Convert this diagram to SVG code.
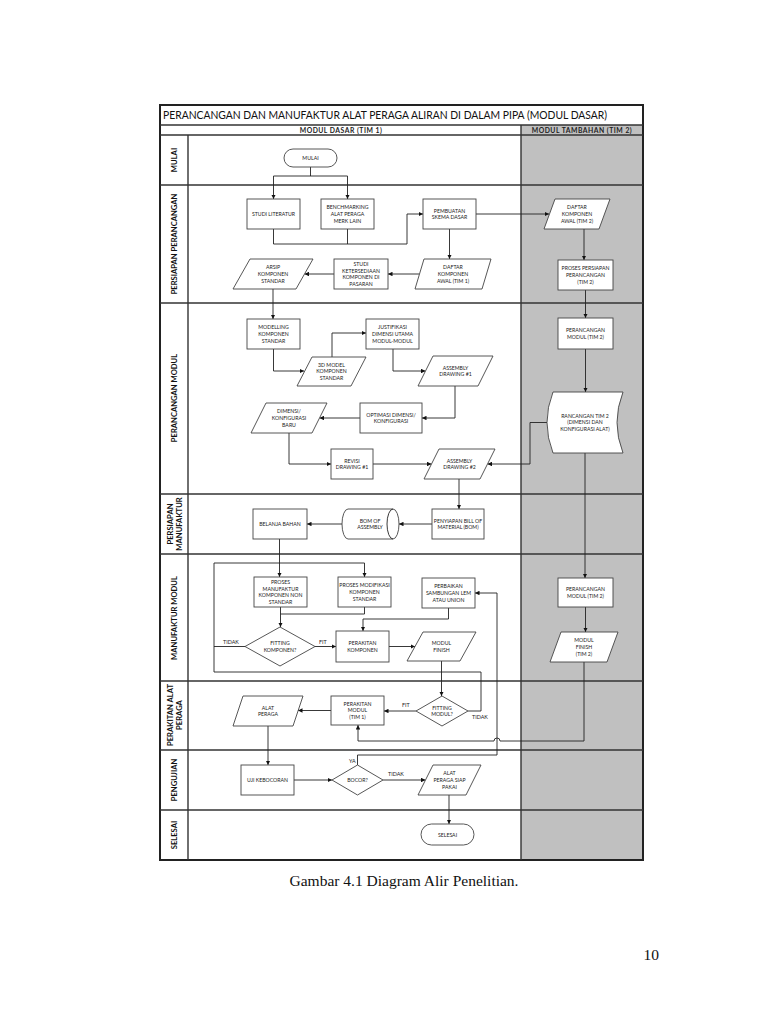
<svg xmlns="http://www.w3.org/2000/svg" width="768" height="1024" viewBox="0 0 768 1024">
<defs>
<marker id="ah" viewBox="0 0 6 6" refX="6" refY="3" markerWidth="4.5" markerHeight="4.5" markerUnits="userSpaceOnUse" orient="auto"><path d="M0,0 L6,3 L0,6 z" fill="#111"/></marker>
<style>
.box{fill:#fff;stroke:#444;stroke-width:0.9}
.ln{fill:none;stroke:#222;stroke-width:0.9}
.la{fill:none;stroke:#222;stroke-width:0.9;marker-end:url(#ah)}
.sep{stroke:#333;stroke-width:1.4;fill:none}
.t{font-family:Lato,"Liberation Sans",sans-serif;font-size:5.2px;fill:#222;text-anchor:middle}
.lb{font-family:Lato,"Liberation Sans",sans-serif;font-size:5.4px;fill:#222}
.lane{font-family:Lato,"Liberation Sans",sans-serif;font-weight:bold;font-size:7.6px;fill:#111;text-anchor:middle}
.hd{font-family:Lato,"Liberation Sans",sans-serif;font-weight:bold;font-size:6.8px;fill:#222;text-anchor:middle;letter-spacing:0.5px}
</style>
</defs>
<rect width="768" height="1024" fill="#fff"/>
<g id="frame">
<rect x="521" y="125" width="122" height="735" fill="#c0c0c0"/>
<rect x="160" y="105" width="483" height="755" fill="none" stroke="#222" stroke-width="2"/>
<line class="sep" x1="160" y1="125" x2="643" y2="125"/>
<line class="sep" x1="160" y1="135" x2="643" y2="135"/>
<line class="sep" x1="160" y1="185" x2="643" y2="185"/>
<line class="sep" x1="160" y1="303" x2="643" y2="303"/>
<line class="sep" x1="160" y1="494" x2="643" y2="494"/>
<line class="sep" x1="160" y1="554" x2="643" y2="554"/>
<line class="sep" x1="160" y1="681" x2="643" y2="681"/>
<line class="sep" x1="160" y1="750" x2="643" y2="750"/>
<line class="sep" x1="160" y1="810" x2="643" y2="810"/>
<line class="sep" x1="188" y1="135" x2="188" y2="860"/>
<line class="sep" x1="521" y1="125" x2="521" y2="860"/>
<text x="163" y="119" font-family="Lato,'Liberation Sans',sans-serif" font-size="11" fill="#111" textLength="444" lengthAdjust="spacingAndGlyphs">PERANCANGAN DAN MANUFAKTUR ALAT PERAGA ALIRAN DI DALAM PIPA (MODUL DASAR)</text>
<text class="hd" x="341" y="132.5">MODUL DASAR (TIM 1)</text>
<text class="hd" x="582" y="132.5">MODUL TAMBAHAN (TIM 2)</text>
<text class="lane" transform="translate(177,160) rotate(-90)">MULAI</text>
<text class="lane" transform="translate(177,244) rotate(-90)">PERSIAPAN PERANCANGAN</text>
<text class="lane" transform="translate(177,398) rotate(-90)">PERANCANGAN MODUL</text>
<text class="lane" transform="translate(172.5,524) rotate(-90)">PERSIAPAN</text>
<text class="lane" transform="translate(182,524) rotate(-90)">MANUFAKTUR</text>
<text class="lane" transform="translate(177,618) rotate(-90)">MANUFAKTUR MODUL</text>
<text class="lane" transform="translate(172.5,715) rotate(-90)">PERAKITAN ALAT</text>
<text class="lane" transform="translate(182,715) rotate(-90)">PERAGA</text>
<text class="lane" transform="translate(177,780) rotate(-90)">PENGUJIAN</text>
<text class="lane" transform="translate(177,835) rotate(-90)">SELESAI</text>
</g>
<g id="connectors">
<path class="ln" d="M310.5 167 V176 M273.5 176 H347.5"/>
<path class="la" d="M273.5 176 V199"/>
<path class="la" d="M347.5 176 V199"/>
<path class="la" d="M273.5 229 V244 H407 V214 H423"/>
<path class="ln" d="M347.5 229 V244"/>
<path class="la" d="M476 214 H549"/>
<path class="la" d="M449.5 229 V259"/>
<path class="la" d="M419.5 274 H388"/>
<path class="la" d="M334 274 H304.5"/>
<path class="la" d="M273 289 V319"/>
<path class="la" d="M273.5 349 V371 H304"/>
<path class="la" d="M332 357 V333 H366"/>
<path class="la" d="M393 349 V371 H425.5"/>
<path class="la" d="M455 386 V418 H422"/>
<path class="la" d="M360 418 H319.5"/>
<path class="la" d="M289 433 V464 H331"/>
<path class="la" d="M373 464 H431.5"/>
<path class="la" d="M547 422.5 H530 V464 H487.5"/>
<path class="la" d="M459 479 V509"/>
<path class="la" d="M584 229 V260"/>
<path class="la" d="M585.5 290 V318"/>
<path class="la" d="M585.5 349 V392"/>
<path class="la" d="M585 453 V578"/>
<path class="la" d="M585.5 607 V632"/>
<path class="la" d="M584 662 V741 H500 A3 3 0 0 0 494 741 H358 V725"/>
<path class="la" d="M432 524 H399"/>
<path class="la" d="M342 524 H307"/>
<path class="la" d="M279.5 539 V577"/>
<path class="la" d="M468 711 H481 V672 H214 V563 H364.5 V577"/>
<path class="ln" d="M280.5 607 V614 H364.5 V607"/>
<path class="la" d="M280.5 614 V627"/>
<path class="ln" d="M245 646.5 H214"/>
<path class="la" d="M315 646.5 H336"/>
<path class="la" d="M448.5 608 V619 H363 V631"/>
<path class="la" d="M389 646.5 H415"/>
<path class="la" d="M441.5 661 V696"/>
<path class="la" d="M416 711 H384"/>
<path class="la" d="M331 710.5 H298"/>
<path class="la" d="M268 726 V765"/>
<path class="la" d="M294 780 H332"/>
<path class="la" d="M383 780 H425.5"/>
<path class="la" d="M357.5 765 V755 H497 V593 H475"/>
<path class="la" d="M449 795 V824"/>
<text class="lb" x="223" y="644">TIDAK</text>
<text class="lb" x="319" y="644">FIT</text>
<text class="lb" x="402" y="707">FIT</text>
<text class="lb" x="472" y="719">TIDAK</text>
<text class="lb" x="349" y="763">YA</text>
<text class="lb" x="388" y="776">TIDAK</text>
</g>
<g id="mulai"><rect class="box" x="284" y="149" width="53" height="18" rx="9"/><text class="t" x="310.5" y="160">MULAI</text></g>
<g id="studi-literatur"><rect class="box" x="247" y="199" width="53" height="30"/><text class="t" x="273.5" y="216">STUDI LITERATUR</text></g>
<g id="benchmarking"><rect class="box" x="321" y="199" width="53" height="30"/><text class="t" x="347.5" y="209.3">BENCHMARKING<tspan x="347.5" dy="6.6">ALAT PERAGA</tspan><tspan x="347.5" dy="6.6">MERK LAIN</tspan></text></g>
<g id="pembuatan-skema"><rect class="box" x="423" y="199" width="53" height="30"/><text class="t" x="449.5" y="212.6">PEMBUATAN<tspan x="449.5" dy="6.6">SKEMA DASAR</tspan></text></g>
<g id="daftar-tim2"><polygon class="box" points="555,199 610,199 599,229 544,229"/><text class="t" x="577" y="209.3">DAFTAR<tspan x="577" dy="6.6">KOMPONEN</tspan><tspan x="577" dy="6.6">AWAL (TIM 2)</tspan></text></g>
<g id="daftar-tim1"><polygon class="box" points="424,259 491,259 482,289 415,289"/><text class="t" x="453" y="269.3">DAFTAR<tspan x="453" dy="6.6">KOMPONEN</tspan><tspan x="453" dy="6.6">AWAL (TIM 1)</tspan></text></g>
<g id="studi-ketersediaan"><rect class="box" x="334" y="259" width="54" height="30"/><text class="t" x="361" y="266">STUDI<tspan x="361" dy="6.6">KETERSEDIAAN</tspan><tspan x="361" dy="6.6">KOMPONEN DI</tspan><tspan x="361" dy="6.6">PASARAN</tspan></text></g>
<g id="arsip"><polygon class="box" points="250,259 313,259 296,289 233,289"/><text class="t" x="273" y="269.3">ARSIP<tspan x="273" dy="6.6">KOMPONEN</tspan><tspan x="273" dy="6.6">STANDAR</tspan></text></g>
<g id="proses-persiapan"><rect class="box" x="558" y="260" width="55" height="30"/><text class="t" x="585.5" y="270.3">PROSES PERSIAPAN<tspan x="585.5" dy="6.6">PERANCANGAN</tspan><tspan x="585.5" dy="6.6">(TIM 2)</tspan></text></g>
<g id="modelling"><rect class="box" x="247" y="319" width="53" height="30"/><text class="t" x="273.5" y="329.3">MODELLING<tspan x="273.5" dy="6.6">KOMPONEN</tspan><tspan x="273.5" dy="6.6">STANDAR</tspan></text></g>
<g id="model-3d"><polygon class="box" points="312,357 366,357 351,386 297,386"/><text class="t" x="331.5" y="366.8">3D MODEL<tspan x="331.5" dy="6.6">KOMPONEN</tspan><tspan x="331.5" dy="6.6">STANDAR</tspan></text></g>
<g id="justifikasi"><rect class="box" x="366" y="319" width="53" height="30"/><text class="t" x="392.5" y="329.3">JUSTIFIKASI<tspan x="392.5" dy="6.6">DIMENSI UTAMA</tspan><tspan x="392.5" dy="6.6">MODUL-MODUL</tspan></text></g>
<g id="assembly1"><polygon class="box" points="433,356 493,356 478,386 418,386"/><text class="t" x="455.5" y="369.6">ASSEMBLY<tspan x="455.5" dy="6.6">DRAWING #1</tspan></text></g>
<g id="optimasi"><rect class="box" x="360" y="403" width="62" height="30"/><text class="t" x="391" y="416.6">OPTIMASI DIMENSI/<tspan x="391" dy="6.6">KONFIGURASI</tspan></text></g>
<g id="dimensi-baru"><polygon class="box" points="266,403 327,403 312,433 251,433"/><text class="t" x="289" y="413.3">DIMENSI/<tspan x="289" dy="6.6">KONFIGURASI</tspan><tspan x="289" dy="6.6">BARU</tspan></text></g>
<g id="revisi"><rect class="box" x="331" y="449" width="42" height="30"/><text class="t" x="352" y="462.6">REVISI<tspan x="352" dy="6.6">DRAWING #1</tspan></text></g>
<g id="assembly2"><polygon class="box" points="439,449 495,449 480,479 424,479"/><text class="t" x="459.5" y="462.6">ASSEMBLY<tspan x="459.5" dy="6.6">DRAWING #2</tspan></text></g>
<g id="perancangan-modul-tim2"><rect class="box" x="558" y="318" width="55" height="31"/><text class="t" x="585.5" y="332.1">PERANCANGAN<tspan x="585.5" dy="6.6">MODUL (TIM 2)</tspan></text></g>
<g id="rancangan-tim2"><path class="box" d="M553 392 L623 392 Q611 422.5 623 453 L553 453 Q541 422.5 553 392 Z"/><text class="t" x="585" y="417.8">RANCANGAN TIM 2<tspan x="585" dy="6.6">(DIMENSI DAN</tspan><tspan x="585" dy="6.6">KONFIGURASI ALAT)</tspan></text></g>
<g id="penyiapan-bom"><rect class="box" x="432" y="509" width="52" height="30"/><text class="t" x="458" y="522.6">PENYIAPAN BILL OF<tspan x="458" dy="6.6">MATERIAL (BOM)</tspan></text></g>
<g id="bom-assembly"><path class="box" d="M348 509 L393 509 A6 15 0 0 1 393 539 L348 539 A6 15 0 0 1 348 509 Z"/><path class="ln" d="M393 509 A6 15 0 0 0 393 539" stroke="#444"/><text class="t" x="370" y="522.6">BOM OF<tspan x="370" dy="6.6">ASSEMBLY</tspan></text></g>
<g id="belanja-bahan"><rect class="box" x="253" y="509" width="54" height="30"/><text class="t" x="280" y="526">BELANJA BAHAN</text></g>
<g id="proses-manufaktur"><rect class="box" x="254" y="577" width="53" height="30"/><text class="t" x="280.5" y="584">PROSES<tspan x="280.5" dy="6.6">MANUFAKTUR</tspan><tspan x="280.5" dy="6.6">KOMPONEN NON</tspan><tspan x="280.5" dy="6.6">STANDAR</tspan></text></g>
<g id="proses-modifikasi"><rect class="box" x="338" y="577" width="53" height="30"/><text class="t" x="364.5" y="587.3">PROSES MODIFIKASI<tspan x="364.5" dy="6.6">KOMPONEN</tspan><tspan x="364.5" dy="6.6">STANDAR</tspan></text></g>
<g id="perbaikan"><rect class="box" x="422" y="578" width="53" height="30"/><text class="t" x="448.5" y="588.3">PERBAIKAN<tspan x="448.5" dy="6.6">SAMBUNGAN LEM</tspan><tspan x="448.5" dy="6.6">ATAU UNION</tspan></text></g>
<g id="fitting-komponen"><polygon class="box" points="280,627 315,646.5 280,666 245,646.5"/><text class="t" x="280" y="645.1">FITTING<tspan x="280" dy="6.6">KOMPONEN?</tspan></text></g>
<g id="perakitan-komponen"><rect class="box" x="336" y="631" width="53" height="31"/><text class="t" x="362.5" y="645.1">PERAKITAN<tspan x="362.5" dy="6.6">KOMPONEN</tspan></text></g>
<g id="modul-finish"><polygon class="box" points="423,632 476,632 460,661 407,661"/><text class="t" x="441.5" y="645.1">MODUL<tspan x="441.5" dy="6.6">FINISH</tspan></text></g>
<g id="perancangan-modul-tim2-b"><rect class="box" x="558" y="578" width="55" height="29"/><text class="t" x="585.5" y="591.1">PERANCANGAN<tspan x="585.5" dy="6.6">MODUL (TIM 2)</tspan></text></g>
<g id="modul-finish-tim2"><polygon class="box" points="561,632 618,632 607,662 550,662"/><text class="t" x="584" y="642.3">MODUL<tspan x="584" dy="6.6">FINISH</tspan><tspan x="584" dy="6.6">(TIM 2)</tspan></text></g>
<g id="fitting-modul"><polygon class="box" points="442,696 468,711 442,726 416,711"/><text class="t" x="442" y="709.6">FITTING<tspan x="442" dy="6.6">MODUL?</tspan></text></g>
<g id="perakitan-modul"><rect class="box" x="331" y="696" width="53" height="29"/><text class="t" x="357.5" y="705.8">PERAKITAN<tspan x="357.5" dy="6.6">MODUL</tspan><tspan x="357.5" dy="6.6">(TIM 1)</tspan></text></g>
<g id="alat-peraga"><polygon class="box" points="243,696 303,696 293,726 233,726"/><text class="t" x="268" y="709.6">ALAT<tspan x="268" dy="6.6">PERAGA</tspan></text></g>
<g id="uji-kebocoran"><rect class="box" x="241" y="765" width="53" height="30"/><text class="t" x="267.5" y="782">UJI KEBOCORAN</text></g>
<g id="bocor"><polygon class="box" points="357.5,765 383,780 357.5,795 332,780"/><text class="t" x="357.5" y="782">BOCOR?</text></g>
<g id="alat-siap"><polygon class="box" points="433,765 481,765 466,795 418,795"/><text class="t" x="449.5" y="775.3">ALAT<tspan x="449.5" dy="6.6">PERAGA SIAP</tspan><tspan x="449.5" dy="6.6">PAKAI</tspan></text></g>
<g id="selesai"><rect class="box" x="421" y="824" width="53" height="21" rx="10.5"/><text class="t" x="447.5" y="836.5">SELESAI</text></g>
<text x="404" y="886" font-family="'Liberation Serif',serif" font-size="15.5" fill="#111" text-anchor="middle">Gambar 4.1 Diagram Alir Penelitian.</text>
<text x="659" y="960" font-family="'Liberation Serif',serif" font-size="15.5" fill="#111" text-anchor="end">10</text>
</svg>
